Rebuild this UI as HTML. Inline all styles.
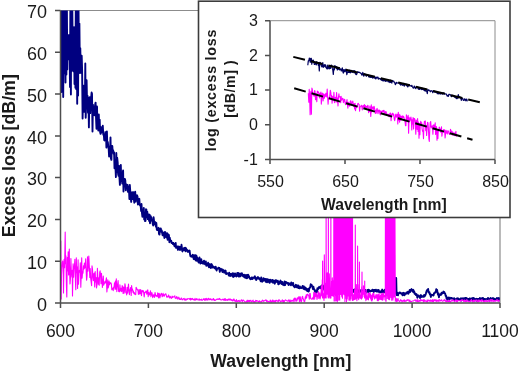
<!DOCTYPE html><html><head><meta charset="utf-8"><style>html,body{margin:0;padding:0;background:#fff;width:520px;height:371px;overflow:hidden}svg{display:block;font-family:"Liberation Sans",Arial,sans-serif}</style></head><body><svg width="520" height="371" viewBox="0 0 520 371"><defs><clipPath id="cp"><rect x="60.5" y="10.5" width="439.5" height="292.5"/></clipPath><clipPath id="ci"><rect x="270" y="20.7" width="225" height="138.8"/></clipPath></defs><rect width="520" height="371" fill="#fff"/><path d="M60.5 10.5H500V303" fill="none" stroke="#8c8c8c" stroke-width="1.2"/><g clip-path="url(#cp)" fill="none" stroke-linejoin="round"><polyline points="60.5,91.0 61.0,-10.0 61.4,92.0 61.9,-10.0 62.3,70.0 62.8,-10.0 63.2,97.0 63.7,20.0 64.1,-10.0 64.6,73.2 65.0,26.2 65.5,82.6 65.9,-12.4 66.4,74.5 66.8,-4.9 67.3,69.4 67.7,35.6 68.2,59.3 68.6,35.3 69.1,51.4 69.5,34.9 70.0,87.1 70.4,-1.6 70.9,94.5 71.3,-18.9 71.8,70.8 72.2,-6.0 72.7,54.6 73.1,30.7 73.6,71.4 74.0,27.3 74.5,84.1 74.9,30.1 75.4,87.8 75.8,2.1 76.3,89.2 76.7,-6.1 77.2,103.7 77.6,9.2 78.1,95.6 78.5,1.4 79.0,72.9 79.4,23.6 79.9,73.0 80.3,48.3 80.8,72.9 81.2,67.6 81.7,55.7 82.1,69.3 82.6,118.5 83.0,99.6 83.5,85.7 83.9,89.7 84.4,111.9 84.8,111.7 85.3,63.5 85.7,117.8 86.2,102.2 86.6,80.2 87.1,105.9 87.5,95.8 88.0,112.6 88.4,97.4 88.9,127.4 89.3,100.0 89.8,97.2 90.2,113.1 90.7,100.6 91.1,98.2 91.6,92.5 92.0,93.8 92.5,131.5 92.9,104.6 93.4,115.0 93.8,110.0 94.3,106.1 94.7,115.3 95.2,104.2 95.6,102.6 96.1,119.5 96.5,128.8 97.0,106.4 97.4,122.4 97.9,122.3 98.3,130.5 98.8,114.4 99.2,129.7 99.7,119.7 100.1,132.0 100.6,133.9 101.0,127.2 101.5,132.6 101.9,128.7 102.4,129.9 102.8,125.8 103.3,134.8 103.7,132.0 104.2,140.1 104.6,140.4 105.1,136.6 105.5,135.5 106.0,131.9 106.4,147.6 106.9,131.5 107.3,145.6 107.8,142.0 108.2,145.5 108.7,149.2 109.1,156.5 109.6,153.2 110.0,153.6 110.5,137.5 110.9,158.2 111.4,159.9 111.8,146.2 112.3,146.0 112.7,151.7 113.2,150.5 113.6,153.6 114.1,152.4 114.5,168.2 115.0,167.3 115.4,165.3 115.9,177.1 116.3,152.9 116.8,172.1 117.2,157.8 117.7,162.6 118.1,174.0 118.6,175.9 119.0,165.9 119.5,178.1 119.9,184.9 120.4,176.0 120.8,164.9 121.3,181.0 121.7,175.0 122.2,183.5 122.6,174.7 123.1,170.4 123.5,191.5 124.0,180.7 124.4,182.7 124.9,179.0 125.3,180.5 125.8,190.3 126.2,185.5 126.7,184.5 127.1,187.0 127.6,184.9 128.0,191.9 128.5,186.7 128.9,188.0 129.4,199.0 129.8,184.9 130.3,192.1 130.7,196.1 131.2,201.9 131.6,194.8 132.1,192.2 132.5,199.1 133.0,198.2 133.4,192.3 133.9,199.4 134.3,202.7 134.8,199.0 135.2,191.8 135.7,201.6 136.1,195.9 136.6,197.1 137.0,195.3 137.5,196.3 137.9,204.5 138.4,201.8 138.8,200.7 139.3,198.8 139.7,204.7 140.2,205.6 140.6,204.8 141.1,211.0 141.5,204.0 142.0,213.4 142.4,216.7 142.9,214.3 143.3,216.3 143.8,208.0 144.2,219.4 144.7,215.7 145.1,221.1 145.5,220.9 146.0,209.1 146.4,209.8 146.9,217.0 147.3,211.7 147.8,219.1 148.2,214.2 148.7,214.5 149.1,220.9 149.6,214.6 150.0,223.3 150.5,215.9 150.9,217.0 151.4,217.8 151.8,220.8 152.3,219.9 152.7,223.7 153.2,225.5 153.6,217.3 154.1,221.5 154.5,222.0 155.0,224.6 155.4,222.3 155.9,226.6 156.3,222.9 156.8,229.7 157.2,230.0 157.7,229.7 158.1,229.9 158.6,227.8 159.0,233.9 159.5,234.6 159.9,229.2 160.4,228.5 160.8,228.5 161.3,231.8 161.7,230.4 162.2,233.4 162.6,235.3 163.1,232.4 163.5,235.3 164.0,234.7 164.4,238.0 164.9,232.0 165.3,232.2 165.8,235.3 166.2,237.2 166.7,237.7 167.1,233.1 167.6,239.8 168.0,234.2 168.5,238.5 168.9,235.0 169.4,242.2 169.8,237.8 170.3,241.4 170.7,240.8 171.2,240.7 171.6,243.1 172.1,242.6 172.5,242.6 173.0,244.1 173.4,243.0 173.9,243.7 174.3,245.9 174.8,246.4 175.2,244.7 175.7,243.0 176.1,247.8 176.6,246.7 177.0,247.5 177.5,246.4 177.9,249.9 178.4,246.8 178.8,246.5 179.3,246.8 179.7,249.9 180.2,247.2 180.6,249.8 181.1,249.0 181.5,244.8 182.0,248.4 182.4,251.5 182.9,250.3 183.3,250.2 183.8,248.5 184.2,247.9 184.7,250.4 185.1,247.6 185.6,251.3 186.0,248.2 186.5,249.5 186.9,250.4 187.4,250.3 187.8,251.9 188.3,250.8 188.7,251.6 189.2,251.8 189.6,250.6 190.1,254.6 190.5,256.4 191.0,255.6 191.4,256.7 191.9,255.7 192.3,256.7 192.8,254.8 193.2,256.1 193.7,259.1 194.1,255.2 194.6,259.4 195.0,259.3 195.5,255.3 195.9,260.5 196.4,255.6 196.8,260.8 197.3,257.5 197.7,258.7 198.2,260.6 198.6,262.6 199.1,260.6 199.5,257.5 200.0,261.6 200.4,263.6 200.9,259.4 201.3,259.3 201.8,263.0 202.2,262.0 202.7,262.5 203.1,263.8 203.6,261.7 204.0,260.7 204.5,263.4 204.9,264.2 205.4,262.6 205.8,261.4 206.3,265.7 206.7,265.4 207.2,265.5 207.6,265.5 208.1,262.7 208.5,263.8 209.0,267.3 209.4,264.2 209.9,266.9 210.3,266.3 210.8,268.1 211.2,264.0 211.7,264.3 212.1,265.1 212.6,267.6 213.0,266.3 213.5,267.0 213.9,266.7 214.4,268.0 214.8,267.4 215.3,268.7 215.7,266.8 216.2,269.1 216.6,270.6 217.1,268.7 217.5,268.8 218.0,268.5 218.4,267.7 218.9,268.5 219.3,267.9 219.8,271.8 220.2,269.4 220.7,270.3 221.1,268.8 221.6,270.6 222.0,269.5 222.5,272.1 222.9,269.7 223.4,271.0 223.8,270.3 224.3,272.7 224.7,271.8 225.2,271.6 225.6,270.6 226.1,274.1 226.5,274.1 227.0,273.3 227.4,273.3 227.9,273.5 228.3,273.6 228.8,275.5 229.2,272.8 229.7,274.9 230.1,276.0 230.6,274.0 231.0,274.1 231.5,275.3 231.9,273.7 232.4,276.3 232.8,273.3 233.3,277.0 233.7,273.6 234.2,274.0 234.6,276.2 235.1,273.4 235.5,275.0 236.0,274.7 236.4,276.6 236.9,275.6 237.3,272.9 237.8,275.7 238.2,272.9 238.7,276.6 239.1,274.9 239.6,276.4 240.0,273.5 240.5,276.4 240.9,274.4 241.4,274.2 241.8,273.2 242.3,274.3 242.7,275.9 243.2,276.4 243.6,274.9 244.1,274.8 244.5,277.4 245.0,277.0 245.4,277.8 245.9,275.0 246.3,276.7 246.8,278.3 247.2,275.0 247.7,277.7 248.1,274.6 248.6,275.6 249.0,276.8 249.5,277.7 249.9,278.5 250.4,279.3 250.8,278.2 251.3,278.9 251.7,277.5 252.2,278.9 252.6,279.0 253.1,277.6 253.5,277.9 254.0,277.8 254.4,277.2 254.9,276.3 255.3,278.8 255.8,277.7 256.2,280.0 256.7,279.3 257.1,278.2 257.6,277.9 258.0,277.0 258.5,278.4 258.9,277.8 259.4,279.3 259.8,278.8 260.3,279.5 260.7,281.3 261.2,277.4 261.6,281.1 262.1,281.7 262.5,280.0 263.0,281.0 263.4,278.2 263.9,280.5 264.3,279.6 264.8,278.8 265.2,279.1 265.7,281.9 266.1,279.0 266.6,280.3 267.0,282.4 267.5,279.1 267.9,281.7 268.4,279.7 268.8,279.6 269.3,282.3 269.7,282.8 270.2,279.6 270.6,280.7 271.1,280.2 271.5,281.8 272.0,281.7 272.4,280.0 272.9,282.7 273.3,282.0 273.8,280.5 274.2,280.7 274.7,283.7 275.1,282.7 275.6,281.2 276.0,280.1 276.5,281.5 276.9,282.0 277.4,282.3 277.8,280.7 278.3,284.3 278.7,283.4 279.2,282.1 279.6,283.7 280.1,281.6 280.5,280.6 281.0,281.6 281.4,282.9 281.9,284.1 282.3,282.0 282.8,284.7 283.2,283.4 283.7,283.4 284.1,285.2 284.6,281.5 285.0,285.1 285.5,283.5 285.9,281.9 286.4,282.4 286.8,282.4 287.3,283.4 287.7,283.2 288.2,283.0 288.6,285.1 289.1,283.9 289.5,283.5 290.0,283.5 290.4,283.7 290.9,285.3 291.3,282.4 291.8,284.2 292.2,283.5 292.7,285.0 293.1,283.0 293.6,286.2 294.0,285.9 294.5,287.3 294.9,287.3 295.4,285.8 295.8,284.8 296.3,285.2 296.7,287.2 297.2,287.1 297.6,287.4 298.1,285.3 298.5,288.1 299.0,286.3 299.4,288.4 299.9,286.4 300.3,287.9 300.8,287.5 301.2,288.1 301.7,287.2 302.1,287.8 302.6,286.0 303.0,286.3 303.5,288.9 303.9,286.4 304.4,289.3 304.8,288.4 305.3,287.5 305.7,289.7 306.2,288.3 306.6,289.9 307.1,290.9 307.5,290.3 308.0,288.9 308.4,291.6 308.9,291.1 309.3,288.2 309.8,287.8 310.2,287.5 310.7,284.3 311.1,284.6 311.6,284.9 312.0,285.8 312.5,286.9 312.9,289.1 313.4,286.7 313.8,288.6 314.3,289.4 314.7,290.6 315.2,291.8 315.6,293.2 316.1,291.4 316.5,290.1 317.0,292.0 317.4,288.3 317.9,289.3 318.3,288.9 318.8,288.0 319.2,286.8 319.7,287.5 320.1,287.5 320.6,288.3 321.0,286.1 321.5,288.2 321.9,287.2 322.4,284.9 322.8,288.3 323.3,288.6 323.7,286.2 324.2,289.9 324.6,289.1 325.1,290.3 325.5,288.2 326.0,290.8 326.4,290.0 326.9,290.4 327.3,289.0 327.8,291.0 328.2,288.9 328.7,289.8 329.1,290.3 329.6,289.7 330.0,290.4 330.5,290.7 330.9,291.0 331.4,291.4 331.8,289.2 332.3,289.7 332.7,290.5 333.2,289.1 333.6,289.1 334.1,291.2 334.5,289.3 335.0,290.2 335.4,291.9 335.9,290.1 336.3,291.4 336.8,289.4 337.2,290.3 337.7,289.3 338.1,291.4 338.6,289.8 339.0,289.9 339.5,289.3 339.9,291.8 340.4,289.9 340.8,291.5 341.3,289.8 341.7,289.0 342.2,291.2 342.6,288.9 343.1,291.7 343.5,291.5 344.0,290.2 344.4,288.9 344.9,292.0 345.3,290.7 345.8,291.7 346.2,291.9 346.7,290.3 347.1,289.7 347.6,289.8 348.0,289.0 348.5,291.1 348.9,289.5 349.4,289.2 349.8,289.2 350.3,291.1 350.7,289.5 351.2,292.3 351.6,292.2 352.1,289.2 352.5,292.2 353.0,291.4 353.4,291.4 353.9,289.7 354.3,292.1 354.8,289.4 355.2,292.3 355.7,291.2 356.1,291.4 356.6,291.5 357.0,290.7 357.5,290.9 357.9,290.3 358.4,292.3 358.8,291.8 359.3,290.6 359.7,292.0 360.2,291.1 360.6,291.4 361.1,290.1 361.5,291.4 362.0,291.4 362.4,290.5 362.9,290.4 363.3,291.5 363.8,292.3 364.2,291.8 364.7,290.5 365.1,289.9 365.6,291.2 366.0,290.9 366.5,292.4 366.9,291.6 367.4,289.9 367.8,291.3 368.3,292.0 368.7,289.6 369.2,291.5 369.6,290.5 370.1,291.1 370.5,291.4 371.0,290.7 371.4,290.6 371.9,290.9 372.3,289.7 372.8,290.3 373.2,289.9 373.7,292.0 374.1,290.0 374.6,290.0 375.0,290.0 375.5,291.0 375.9,289.7 376.4,291.6 376.8,290.6 377.3,290.1 377.7,290.8 378.2,291.8 378.6,290.0 379.1,291.8 379.5,291.3 380.0,292.3 380.4,291.4 380.9,292.3 381.3,292.1 381.8,290.7 382.2,289.6 382.7,291.8 383.1,292.4 383.6,290.9 384.0,292.3 384.5,290.2 384.9,289.7 385.4,292.5 385.8,292.4 386.3,291.7 386.7,292.8 387.2,292.1 387.6,292.5 388.1,292.2 388.5,291.4 389.0,291.0 389.4,291.7 389.9,293.0 390.3,292.7 390.8,291.6 391.2,291.4 391.7,293.7 392.1,291.3 392.6,292.8 393.0,292.7 393.5,293.0 393.9,294.4 394.4,294.4 394.8,292.6 395.3,292.4 395.7,278.0 396.2,278.0 396.6,295.0 397.1,292.5 397.5,295.0 398.0,295.3 398.4,293.1 398.9,293.1 399.3,292.6 399.8,293.2 400.2,292.6 400.7,292.7 401.1,293.4 401.6,294.0 402.0,293.9 402.5,295.3 402.9,292.9 403.4,293.3 403.8,292.7 404.3,295.2 404.7,294.9 405.2,293.5 405.6,293.8 406.1,293.7 406.5,292.5 407.0,293.3 407.4,293.4 407.9,291.7 408.3,293.8 408.8,292.8 409.2,292.2 409.7,290.0 410.1,292.0 410.6,290.0 411.0,290.3 411.5,289.1 411.9,290.4 412.4,291.1 412.8,291.7 413.3,289.8 413.7,292.3 414.2,291.3 414.6,293.9 415.1,293.3 415.5,294.5 416.0,295.1 416.4,294.1 416.9,294.6 417.3,297.7 417.8,296.4 418.2,295.7 418.7,295.5 419.1,296.6 419.6,296.8 420.0,298.0 420.5,296.1 420.9,295.1 421.4,296.8 421.8,297.1 422.3,296.3 422.7,296.1 423.2,296.1 423.6,296.8 424.1,294.9 424.5,296.5 425.0,295.7 425.4,295.0 425.9,293.6 426.3,292.1 426.8,290.4 427.2,290.0 427.7,290.0 428.1,289.0 428.6,292.6 429.0,292.4 429.5,292.3 429.9,294.6 430.4,293.9 430.8,297.0 431.3,294.7 431.7,295.5 432.2,295.1 432.6,294.9 433.1,294.8 433.5,295.5 434.0,293.3 434.4,293.4 434.9,292.8 435.3,291.9 435.8,292.0 436.2,289.3 436.7,291.4 437.1,289.8 437.6,293.1 438.0,294.9 438.5,293.5 438.9,297.2 439.4,294.8 439.8,294.9 440.3,295.0 440.7,293.9 441.2,294.7 441.6,292.6 442.1,293.6 442.5,292.8 443.0,292.6 443.4,291.6 443.9,293.1 444.3,292.1 444.8,293.4 445.2,293.7 445.7,296.0 446.1,295.7 446.6,298.8 447.0,299.8 447.5,297.7 447.9,299.4 448.4,299.2 448.8,297.5 449.3,299.4 449.7,298.8 450.2,297.8 450.6,298.6 451.1,298.5 451.5,297.9 452.0,298.5 452.4,298.6 452.9,298.5 453.3,298.6 453.8,300.1 454.2,298.3 454.7,299.3 455.1,300.0 455.6,299.3 456.0,299.2 456.5,298.5 456.9,298.7 457.4,300.0 457.8,298.1 458.3,298.9 458.7,299.0 459.2,299.7 459.6,300.1 460.1,299.2 460.5,298.7 461.0,298.3 461.4,300.6 461.9,298.8 462.3,299.1 462.8,298.3 463.2,298.3 463.7,300.2 464.1,300.3 464.6,298.7 465.0,298.0 465.5,297.9 465.9,298.0 466.4,300.5 466.8,298.3 467.3,299.8 467.7,300.1 468.2,298.9 468.6,300.3 469.1,298.9 469.5,300.4 470.0,298.3 470.4,299.7 470.9,300.6 471.3,300.3 471.8,298.6 472.2,298.0 472.7,298.6 473.1,300.4 473.6,298.0 474.0,298.3 474.5,300.1 474.9,300.6 475.4,299.8 475.8,299.0 476.3,298.8 476.7,300.7 477.2,299.0 477.6,299.3 478.1,298.9 478.5,298.9 479.0,300.4 479.4,300.0 479.9,298.0 480.3,300.1 480.8,299.8 481.2,298.8 481.7,298.6 482.1,298.0 482.6,300.0 483.0,297.9 483.5,298.8 483.9,300.2 484.4,298.9 484.8,300.1 485.3,300.0 485.7,299.2 486.2,299.0 486.6,299.6 487.1,299.4 487.5,299.4 488.0,297.9 488.4,298.2 488.9,299.4 489.3,300.7 489.8,299.8 490.2,299.4 490.7,297.9 491.1,300.3 491.6,300.0 492.0,299.0 492.5,298.9 492.9,298.1 493.4,298.4 493.8,299.1 494.3,298.8 494.7,299.9 495.2,299.5 495.6,299.4 496.1,298.7 496.5,299.7 497.0,297.9 497.4,298.7 497.9,300.1 498.3,300.3 498.8,298.0 499.2,300.3 499.7,299.5" stroke="#000080" stroke-width="1.9"/><polyline points="60.5,262.0 60.8,241.0 61.2,299.0 61.5,275.0 61.9,267.7 62.3,262.1 62.8,260.9 63.2,267.7 63.5,293.0 64.1,259.2 64.6,267.8 65.2,232.0 65.5,263.8 65.9,255.9 66.4,284.7 66.8,297.0 67.3,257.5 67.7,270.9 68.2,251.7 68.6,274.9 69.1,266.5 69.3,249.0 69.5,265.6 70.0,283.9 70.4,279.3 70.9,258.6 71.3,271.3 71.8,276.9 72.2,270.3 72.5,296.0 73.1,263.8 73.6,277.3 74.0,268.3 74.5,264.7 74.9,259.3 75.4,280.3 75.8,289.8 76.3,257.7 76.7,272.8 77.2,267.0 77.6,288.5 78.1,259.9 78.5,284.3 79.0,273.9 79.4,270.2 79.9,272.2 80.3,262.8 80.8,287.2 81.2,275.7 81.7,257.8 82.1,278.2 82.6,271.8 83.0,273.3 83.5,265.7 83.9,269.2 84.4,263.1 84.8,268.1 85.3,265.8 85.7,258.8 86.2,271.5 86.6,280.3 87.1,275.5 87.5,256.8 88.0,271.3 88.4,265.8 88.8,256.0 89.3,265.8 89.8,277.4 90.2,268.6 90.7,278.7 91.1,281.5 91.6,285.7 92.0,265.9 92.5,269.3 92.9,277.5 93.4,280.8 93.8,273.9 94.3,273.1 94.7,286.9 95.2,271.5 95.6,281.9 96.1,277.6 96.5,287.9 97.0,284.9 97.4,268.4 97.9,278.0 98.3,284.2 98.8,277.8 99.2,285.2 99.7,272.4 100.1,270.8 100.6,275.8 101.0,283.7 101.5,273.2 101.9,279.8 102.4,287.4 102.8,282.1 103.3,276.1 103.7,285.2 104.2,283.5 104.6,283.2 105.1,281.2 105.5,282.9 106.0,280.3 106.4,277.8 106.9,291.9 107.3,286.6 107.8,279.9 108.2,288.0 108.7,285.8 109.1,281.1 109.6,284.7 110.0,282.6 110.5,283.3 110.9,282.9 111.4,284.2 111.8,289.7 112.3,288.0 112.7,289.1 113.2,290.7 113.6,287.6 114.1,286.6 114.5,282.8 115.0,289.3 115.4,281.0 115.9,289.2 116.3,278.7 116.8,291.6 117.2,287.0 117.7,283.6 118.1,280.6 118.6,291.3 119.0,291.7 119.5,291.8 119.9,284.9 120.4,289.9 120.8,291.2 121.3,288.4 121.7,291.6 122.2,285.6 122.6,286.7 123.1,293.4 123.5,287.0 124.0,293.3 124.4,291.3 124.9,283.7 125.3,285.7 125.8,292.6 126.2,292.3 126.7,294.9 127.1,287.3 127.6,293.1 128.0,289.2 128.5,284.1 128.9,290.3 129.4,294.8 129.8,290.3 130.3,288.8 130.7,287.5 131.2,295.5 131.6,285.6 132.1,290.3 132.5,289.1 133.0,292.5 133.4,291.1 133.9,293.7 134.3,292.6 134.8,294.3 135.2,294.1 135.7,294.7 136.1,287.4 136.6,288.2 137.0,289.2 137.5,290.1 137.9,289.5 138.4,294.4 138.8,293.5 139.3,289.5 139.7,293.9 140.2,293.8 140.6,289.5 141.1,293.3 141.5,295.7 142.0,290.4 142.4,291.9 142.9,290.6 143.3,290.7 143.8,293.4 144.2,296.9 144.7,292.3 145.1,292.6 145.5,292.2 146.0,291.0 146.4,292.4 146.9,294.3 147.3,290.6 147.8,289.9 148.2,296.8 148.7,292.5 149.1,293.9 149.6,295.0 150.0,292.8 150.5,290.9 150.9,296.6 151.4,294.8 151.8,292.5 152.3,294.5 152.7,297.6 153.2,296.5 153.6,294.7 154.1,295.3 154.5,297.4 155.0,292.5 155.4,294.1 155.9,296.1 156.3,295.5 156.8,295.7 157.2,296.8 157.7,292.8 158.1,294.2 158.6,297.9 159.0,293.2 159.5,294.3 159.9,298.0 160.4,295.6 160.8,294.5 161.3,293.3 161.7,293.9 162.2,296.8 162.6,296.1 163.1,293.4 163.5,296.0 164.0,294.8 164.4,296.2 164.9,294.7 165.3,294.2 165.8,293.8 166.2,294.9 166.7,297.1 167.1,297.3 167.6,296.6 168.0,296.9 168.5,295.0 168.9,295.7 169.4,297.7 169.8,298.0 170.3,296.3 170.7,297.5 171.2,298.1 171.6,298.4 172.1,296.1 172.5,297.4 173.0,296.6 173.4,296.9 173.9,297.0 174.3,296.5 174.8,295.8 175.2,298.2 175.7,298.1 176.1,298.6 176.6,296.6 177.0,297.0 177.5,298.1 177.9,299.2 178.4,297.9 178.8,297.2 179.3,298.4 179.7,299.5 180.2,299.4 180.6,299.5 181.1,298.3 181.5,298.0 182.0,299.7 182.4,299.5 182.9,299.8 183.3,298.7 183.8,298.5 184.2,298.4 184.7,300.1 185.1,300.3 185.6,298.9 186.0,300.2 186.5,299.0 186.9,299.1 187.4,299.4 187.8,298.6 188.3,298.7 188.7,298.7 189.2,298.7 189.6,299.3 190.1,298.3 190.5,300.0 191.0,298.5 191.4,299.1 191.9,299.6 192.3,298.4 192.8,299.1 193.2,299.4 193.7,299.4 194.1,300.2 194.6,300.0 195.0,298.4 195.5,300.1 195.9,299.4 196.4,299.7 196.8,298.5 197.3,299.3 197.7,299.8 198.2,300.0 198.6,300.0 199.1,298.7 199.5,300.1 200.0,299.5 200.4,299.7 200.9,300.2 201.3,299.1 201.8,300.3 202.2,300.2 202.7,300.1 203.1,299.1 203.6,299.4 204.0,298.6 204.5,300.0 204.9,300.3 205.4,298.6 205.8,299.9 206.3,299.8 206.7,298.3 207.2,300.3 207.6,299.3 208.1,298.9 208.5,298.3 209.0,300.0 209.4,299.0 209.9,299.4 210.3,298.7 210.8,299.6 211.2,299.2 211.7,300.1 212.1,299.8 212.6,299.9 213.0,298.9 213.5,298.5 213.9,300.2 214.4,300.4 214.8,299.7 215.3,300.3 215.7,299.9 216.2,299.7 216.6,299.3 217.1,299.1 217.5,299.4 218.0,298.8 218.4,299.3 218.9,299.5 219.3,298.4 219.8,299.2 220.2,299.0 220.7,299.7 221.1,300.1 221.6,299.7 222.0,299.8 222.5,299.7 222.9,299.0 223.4,299.2 223.8,300.2 224.3,300.4 224.7,298.8 225.2,298.5 225.6,300.4 226.1,300.2 226.5,299.7 227.0,300.1 227.4,299.7 227.9,300.3 228.3,299.0 228.8,299.4 229.2,299.8 229.7,298.9 230.1,300.0 230.6,299.1 231.0,300.1 231.5,300.4 231.9,299.6 232.4,300.9 232.8,300.2 233.3,300.6 233.7,299.0 234.2,299.3 234.6,300.7 235.1,301.3 235.5,300.7 236.0,301.4 236.4,299.5 236.9,301.5 237.3,301.5 237.8,301.0 238.2,300.6 238.7,301.3 239.1,300.3 239.6,301.4 240.0,301.5 240.5,301.1 240.9,300.5 241.4,299.8 241.8,300.3 242.3,301.9 242.7,300.3 243.2,300.0 243.6,300.4 244.1,301.1 244.5,301.3 245.0,302.0 245.4,301.9 245.9,302.2 246.3,302.0 246.8,300.9 247.2,300.2 247.7,302.2 248.1,300.4 248.6,301.4 249.0,300.5 249.5,301.8 249.9,300.3 250.4,300.9 250.8,300.3 251.3,302.0 251.7,301.3 252.2,301.4 252.6,300.6 253.1,300.2 253.5,301.9 254.0,301.7 254.4,301.6 254.9,302.3 255.3,301.2 255.8,300.2 256.2,301.3 256.7,300.5 257.1,301.1 257.6,300.9 258.0,301.2 258.5,302.1 258.9,301.8 259.4,300.8 259.8,301.8 260.3,302.0 260.7,301.7 261.2,301.2 261.6,302.0 262.1,301.0 262.5,300.1 263.0,300.5 263.4,301.4 263.9,300.7 264.3,300.9 264.8,300.8 265.2,300.3 265.7,300.0 266.1,299.9 266.6,301.5 267.0,300.6 267.5,300.9 267.9,302.1 268.4,301.4 268.8,301.8 269.3,301.7 269.7,302.2 270.2,300.0 270.6,300.8 271.1,302.2 271.5,301.0 272.0,302.2 272.4,300.3 272.9,300.0 273.3,302.0 273.8,300.8 274.2,301.1 274.7,302.1 275.1,300.3 275.6,302.2 276.0,300.8 276.5,300.4 276.9,300.4 277.4,301.1 277.8,301.0 278.3,302.0 278.7,299.9 279.2,299.9 279.6,300.2 280.1,301.3 280.5,301.8 281.0,301.0 281.4,301.3 281.9,301.4 282.3,299.8 282.8,300.4 283.2,302.3 283.7,300.6 284.1,302.2 284.6,301.0 285.0,300.4 285.5,299.8 285.9,300.3 286.4,300.6 286.8,300.9 287.3,300.9 287.7,301.2 288.2,301.0 288.6,299.9 289.1,300.5 289.5,302.2 290.0,299.9 290.4,301.6 290.9,300.8 291.3,301.4 291.8,300.2 292.2,300.2 292.7,300.6 293.1,301.9 293.6,299.7 294.0,298.6 294.5,298.2 294.9,301.7 295.4,299.1 295.8,298.1 296.3,300.2 296.7,301.3 297.2,300.1 297.6,297.7 298.1,298.9 298.5,298.0 299.0,296.5 299.4,301.8 299.9,298.8 300.3,296.7 300.8,301.3 301.2,301.9 301.7,300.8 302.1,297.0 302.6,296.4 303.0,298.7 303.5,299.0 303.9,301.1 304.4,301.8 304.8,301.3 305.3,296.9 305.7,298.7 306.2,294.9 306.6,298.0 307.1,294.2 307.5,294.4 308.0,294.4 308.4,295.8 308.9,295.8 309.3,299.3 309.8,293.4 310.2,293.6 310.7,298.7 311.1,298.8 311.6,299.1 312.0,299.2 312.5,298.6 312.9,297.4 313.4,299.3 313.8,292.2 314.3,293.5 314.7,299.2 315.2,292.9 315.6,296.5 316.1,293.0 316.5,294.7 317.0,299.5 317.4,297.1 317.9,294.0 318.3,291.4 318.8,298.5 319.2,296.2 319.7,292.8 320.1,299.0 320.6,296.4 321.0,294.4 321.3,285.9 322.0,296.0 322.3,279.7 322.5,298.0 322.6,261.0 322.6,298.0 323.0,297.5 323.3,293.7 324.0,300.4 324.3,254.9 325.0,298.0 325.3,283.2 326.0,294.3 326.1,298.0 326.1,150.0 326.2,298.0 326.3,288.1 327.0,294.1 327.3,272.8 328.0,297.1 328.3,273.8 328.3,298.0 328.4,150.0 328.4,298.0 329.0,296.6 329.3,273.9 330.0,298.3 330.3,291.4 330.8,298.0 330.9,150.0 330.9,298.0 331.0,295.7 331.3,281.3 332.0,295.4 332.3,277.7 333.0,296.3 333.3,280.5 333.7,295.7 333.9,150.0 334.1,301.1 334.3,150.0 334.5,294.1 334.7,150.0 334.9,294.4 335.1,150.0 335.3,300.9 335.5,150.0 335.7,294.8 335.9,150.0 336.1,295.3 336.3,150.0 336.5,300.8 336.7,150.0 336.9,295.2 337.1,150.0 337.3,302.0 337.5,150.0 337.7,300.2 337.9,150.0 338.1,300.5 338.3,150.0 338.5,294.3 338.7,150.0 338.9,294.2 339.1,150.0 339.3,299.5 339.5,150.0 339.7,300.3 339.9,150.0 340.1,294.2 340.3,150.0 340.5,294.1 340.7,150.0 340.9,294.4 341.1,150.0 341.3,293.4 341.5,150.0 341.7,296.2 341.9,150.0 342.1,297.0 342.3,150.0 342.5,298.3 342.7,150.0 342.9,292.6 343.1,150.0 343.3,293.9 343.5,150.0 343.7,293.2 343.9,150.0 344.1,294.7 344.3,150.0 344.5,293.9 344.7,150.0 344.9,301.4 345.1,150.0 345.3,295.7 345.5,150.0 345.7,293.4 345.9,150.0 346.1,298.7 346.3,150.0 346.5,301.7 346.7,150.0 346.9,299.9 347.1,150.0 347.3,298.5 347.5,150.0 347.7,295.8 347.9,150.0 348.1,296.0 348.3,150.0 348.5,295.0 348.7,150.0 348.9,300.1 349.1,150.0 349.3,300.0 349.5,150.0 349.7,296.9 349.9,150.0 350.1,300.6 350.3,150.0 350.5,298.5 350.7,150.0 350.9,298.9 351.1,150.0 351.3,294.7 351.5,150.0 351.5,295.7 351.8,287.0 352.4,300.4 352.4,298.0 352.5,150.0 352.6,298.0 352.7,294.4 353.3,300.3 353.6,294.7 354.2,299.6 354.5,289.7 355.1,299.4 355.2,298.0 355.3,225.0 355.4,298.0 355.4,286.2 356.0,298.6 356.3,284.6 356.9,300.8 357.2,295.4 357.6,298.0 357.6,246.0 357.7,298.0 357.8,295.2 358.1,294.0 358.7,299.8 359.0,284.5 359.3,298.0 359.4,262.0 359.4,298.0 359.6,298.0 359.9,289.5 360.5,298.3 360.8,295.5 361.4,299.1 361.7,286.7 361.9,298.0 362.0,272.0 362.1,298.0 362.3,297.9 362.6,291.3 363.2,294.1 363.5,285.7 364.1,296.5 364.4,286.3 364.6,298.0 364.7,281.0 364.8,298.0 365.0,295.7 365.3,292.8 365.9,300.7 366.0,299.9 366.2,290.0 366.2,298.2 366.5,295.5 366.6,299.1 366.9,298.0 367.1,298.4 367.4,299.3 367.5,298.3 367.8,295.6 368.0,293.0 368.3,296.1 368.4,300.0 368.7,297.7 368.9,294.3 369.2,293.1 369.3,294.4 369.6,296.9 369.8,297.1 370.1,293.0 370.2,297.7 370.5,294.2 370.7,299.0 371.0,297.7 371.1,295.3 371.4,300.8 371.6,300.6 371.9,301.0 372.0,298.0 372.3,294.6 372.5,299.8 372.8,293.6 372.9,296.8 373.2,296.9 373.4,293.6 373.7,296.2 373.8,293.1 374.1,295.7 374.3,298.1 374.6,299.0 374.7,296.4 375.0,298.5 375.2,296.5 375.5,297.3 375.6,295.6 375.9,297.8 376.1,294.4 376.4,297.5 376.5,296.8 376.8,298.3 377.0,295.0 377.3,300.4 377.4,300.1 377.7,300.6 377.9,294.4 378.2,300.8 378.3,300.7 378.6,299.8 378.8,299.9 379.1,293.6 379.2,296.1 379.5,296.5 379.7,299.2 380.0,299.2 380.1,297.6 380.4,295.2 380.6,296.7 380.9,297.8 381.0,299.5 381.3,293.3 381.5,299.6 381.8,294.5 381.9,294.6 382.2,296.1 382.4,300.2 382.7,293.4 382.8,293.3 383.1,296.3 383.3,293.0 383.6,294.8 383.7,296.9 384.0,299.9 384.2,295.4 384.5,295.5 384.6,296.4 384.9,296.0 385.1,296.8 385.3,296.7 385.5,150.0 385.7,301.1 385.9,150.0 386.1,301.2 386.3,150.0 386.5,295.5 386.7,150.0 386.9,294.9 387.1,150.0 387.3,298.5 387.5,150.0 387.7,294.0 387.9,150.0 388.1,296.0 388.3,150.0 388.5,299.2 388.7,150.0 388.9,292.1 389.1,150.0 389.3,299.7 389.5,150.0 389.7,299.3 389.9,150.0 390.1,295.9 390.3,150.0 390.5,294.5 390.7,150.0 390.9,297.4 391.1,150.0 391.3,295.0 391.5,150.0 391.7,300.2 391.9,150.0 392.1,297.9 392.3,150.0 392.5,295.1 392.7,150.0 392.9,300.1 393.1,150.0 393.3,298.1 393.5,150.0 393.7,293.3 393.9,150.0 394.1,296.1 394.3,150.0 394.5,296.9 394.7,150.0 395.3,301.2 395.7,300.4 396.2,298.2 396.6,301.6 397.1,299.0 397.5,301.1 398.0,298.5 398.4,300.1 398.9,300.4 399.3,301.7 399.8,301.6 400.2,300.9 400.7,299.6 401.1,300.6 401.6,300.4 402.0,302.0 402.5,301.2 402.9,300.5 403.4,300.4 403.8,301.4 404.3,299.7 404.7,301.5 405.2,301.2 405.6,300.6 406.1,301.3 406.5,300.5 407.0,299.9 407.4,300.5 407.9,299.6 408.3,299.7 408.8,300.6 409.2,301.6 409.7,300.0 410.1,300.8 410.6,301.9 411.0,301.6 411.5,301.8 411.9,301.2 412.4,301.0 412.8,301.0 413.3,301.0 413.7,300.7 414.2,300.4 414.6,300.1 415.1,299.7 415.5,300.4 416.0,301.4 416.4,300.9 416.9,299.9 417.3,301.5 417.8,299.6 418.2,301.8 418.7,301.1 419.1,300.9 419.6,300.5 420.0,301.6 420.5,299.5 420.9,299.5 421.4,300.8 421.8,300.2 422.3,300.5 422.7,300.8 423.2,299.6 423.6,302.0 424.1,301.2 424.5,299.7 425.0,301.3 425.4,300.8 425.9,301.2 426.3,301.3 426.8,302.0 427.2,299.8 427.7,302.0 428.1,300.7 428.6,300.0 429.0,300.4 429.5,300.4 429.9,301.7 430.4,300.8 430.8,299.7 431.3,301.3 431.7,300.7 432.2,301.5 432.6,299.6 433.1,301.7 433.5,301.7 434.0,299.5 434.4,300.7 434.9,299.8 435.3,300.8 435.8,299.7 436.2,301.7 436.7,300.0 437.1,301.2 437.6,301.1 438.0,300.3 438.5,300.0 438.9,301.8 439.4,299.6 439.8,300.1 440.3,300.3 440.7,301.0 441.2,300.4 441.6,299.8 442.1,300.9 442.5,301.3 443.0,301.3 443.4,300.7 443.9,300.3 444.3,299.5 444.8,300.8 445.2,301.1 445.7,300.6 446.1,301.9 446.6,300.0 447.0,301.5 447.5,301.3 447.9,301.7 448.4,301.8 448.8,300.1 449.3,301.8 449.7,300.5 450.2,301.2 450.6,301.9 451.1,301.0 451.5,301.0 452.0,299.7 452.4,301.0 452.9,300.1 453.3,300.5 453.8,300.4 454.2,301.9 454.7,301.1 455.1,301.3 455.6,299.9 456.0,300.3 456.5,301.7 456.9,299.8 457.4,301.9 457.8,300.6 458.3,300.5 458.7,300.8 459.2,300.6 459.6,300.7 460.1,300.6 460.5,301.3 461.0,300.2 461.4,299.9 461.9,300.6 462.3,299.7 462.8,300.6 463.2,300.7 463.7,301.5 464.1,299.8 464.6,300.5 465.0,301.5 465.5,300.3 465.9,301.6 466.4,301.3 466.8,299.6 467.3,300.5 467.7,301.4 468.2,300.8 468.6,301.2 469.1,302.0 469.5,301.2 470.0,300.9 470.4,301.6 470.9,300.6 471.3,299.5 471.8,300.2 472.2,301.0 472.7,301.9 473.1,301.0 473.6,300.2 474.0,302.0 474.5,300.5 474.9,300.1 475.4,300.9 475.8,300.4 476.3,299.8 476.7,301.3 477.2,301.2 477.6,301.9 478.1,299.8 478.5,301.8 479.0,301.5 479.4,300.1 479.9,300.7 480.3,301.1 480.8,300.3 481.2,299.8 481.7,301.6 482.1,299.9 482.6,300.7 483.0,300.6 483.5,301.8 483.9,300.9 484.4,300.6 484.8,301.9 485.3,300.4 485.7,301.3 486.2,300.1 486.6,301.4 487.1,301.4 487.5,301.6 488.0,300.7 488.4,300.1 488.9,301.1 489.3,301.8 489.8,300.3 490.2,299.6 490.7,300.0 491.1,301.8 491.6,299.5 492.0,299.6 492.5,299.7 492.9,301.7 493.4,300.5 493.8,301.2 494.3,301.3 494.7,300.6 495.2,301.3 495.6,300.7 496.1,300.9 496.5,300.3 497.0,299.5 497.4,301.0 497.9,300.2 498.3,300.2 498.8,301.7 499.2,300.4 499.7,299.8" stroke="#ff00ff" stroke-width="1.1"/></g><path d="M60.5 10.5V308M55 303H500M55 303.0H60.5M55 261.2H60.5M55 219.4H60.5M55 177.6H60.5M55 135.9H60.5M55 94.1H60.5M55 52.3H60.5M55 10.5H60.5M60.5 303V308M148.4 303V308M236.3 303V308M324.2 303V308M412.1 303V308M500.0 303V308" fill="none" stroke="#4e4e4e" stroke-width="1.5"/><text x="47.0" y="310.8" text-anchor="end" font-size="18" fill="#1a1a1a">0</text><text x="47.0" y="269.0" text-anchor="end" font-size="18" fill="#1a1a1a">10</text><text x="47.0" y="227.2" text-anchor="end" font-size="18" fill="#1a1a1a">20</text><text x="47.0" y="185.4" text-anchor="end" font-size="18" fill="#1a1a1a">30</text><text x="47.0" y="143.7" text-anchor="end" font-size="18" fill="#1a1a1a">40</text><text x="47.0" y="101.9" text-anchor="end" font-size="18" fill="#1a1a1a">50</text><text x="47.0" y="60.1" text-anchor="end" font-size="18" fill="#1a1a1a">60</text><text x="47.0" y="18.3" text-anchor="end" font-size="18" fill="#1a1a1a">70</text><text x="60.5" y="336.6" text-anchor="middle" font-size="17.5" fill="#1a1a1a">600</text><text x="148.4" y="336.6" text-anchor="middle" font-size="17.5" fill="#1a1a1a">700</text><text x="236.3" y="336.6" text-anchor="middle" font-size="17.5" fill="#1a1a1a">800</text><text x="324.2" y="336.6" text-anchor="middle" font-size="17.5" fill="#1a1a1a">900</text><text x="412.1" y="336.6" text-anchor="middle" font-size="17.5" fill="#1a1a1a">1000</text><text x="500.0" y="336.6" text-anchor="middle" font-size="17.5" fill="#1a1a1a">1100</text><text x="210.3" y="367.3" font-size="17.6" font-weight="bold" fill="#1a1a1a">Wavelength [nm]</text><text transform="translate(14.6 155.7) rotate(-90)" text-anchor="middle" font-size="17.8" font-weight="bold" fill="#1a1a1a">Excess loss [dB/m]</text><rect x="198.5" y="1.2" width="311.5" height="216.3" fill="#fff" stroke="#3c3c3c" stroke-width="1.6"/><path d="M270 20.7H495V159.5" fill="none" stroke="#8c8c8c" stroke-width="1"/><g clip-path="url(#ci)" fill="none" stroke-linejoin="round"><polyline points="308.3,93.2 308.8,102.3 309.2,89.2 309.6,95.6 310.1,114.7 310.5,93.3 311.0,91.2 311.4,114.2 311.9,88.1 312.3,89.2 312.8,93.2 313.2,94.9 313.7,95.5 314.1,96.2 314.6,90.5 315.0,91.1 315.5,99.7 315.9,93.5 316.4,97.1 316.8,101.6 317.3,91.0 317.7,91.5 318.2,92.6 318.6,92.0 319.1,95.0 319.5,97.9 320.0,93.2 320.4,94.6 320.9,92.0 321.3,104.1 321.8,97.9 322.2,93.1 322.7,94.2 323.1,101.0 323.6,93.7 324.0,98.4 324.5,97.9 324.9,94.4 325.4,96.5 325.8,93.3 326.3,93.5 326.7,97.0 327.2,89.1 327.6,96.3 328.1,104.2 328.5,97.7 329.0,98.0 329.4,98.3 329.9,94.6 330.3,90.2 330.8,92.6 331.2,97.8 331.7,95.6 332.1,103.2 332.6,96.5 333.0,99.8 333.5,99.8 333.9,92.4 334.4,102.2 334.8,102.7 335.3,97.4 335.7,99.2 336.2,98.8 336.6,92.6 337.1,102.5 337.5,98.0 338.0,105.9 338.4,98.0 338.9,93.7 339.3,97.0 339.8,96.8 340.2,96.7 340.7,102.8 341.1,96.4 341.6,100.3 342.0,99.4 342.5,98.4 342.9,98.4 343.4,102.7 343.8,101.5 344.3,99.5 344.7,99.4 345.2,103.3 345.6,104.7 346.1,102.3 346.5,102.2 347.0,99.6 347.4,104.2 347.9,108.3 348.3,102.2 348.8,103.6 349.2,105.4 349.7,106.1 350.1,101.9 350.6,100.8 351.0,101.2 351.5,104.8 351.9,103.1 352.4,102.5 352.8,101.1 353.3,104.6 353.7,106.4 354.2,103.7 354.6,109.0 355.1,103.4 355.5,110.7 356.0,107.0 356.4,106.4 356.9,107.1 357.3,105.8 357.8,103.7 358.2,103.3 358.7,104.1 359.1,104.4 359.6,111.1 360.0,107.3 360.5,106.6 360.9,106.3 361.4,105.3 361.8,106.3 362.3,109.9 362.7,105.9 363.2,106.5 363.6,105.3 364.1,107.6 364.5,104.6 365.0,107.4 365.4,105.5 365.9,109.0 366.3,106.3 366.8,106.9 367.2,107.4 367.7,105.4 368.1,105.7 368.6,112.6 369.0,110.9 369.5,111.5 369.9,106.1 370.4,111.5 370.8,116.4 371.3,104.9 371.7,111.9 372.2,106.9 372.6,108.2 373.1,107.3 373.5,109.5 374.0,106.2 374.4,107.6 374.9,110.3 375.3,113.4 375.8,110.3 376.2,113.1 376.7,109.2 377.1,108.4 377.6,111.1 378.0,113.6 378.5,110.1 378.9,111.6 379.4,110.1 379.8,113.2 380.3,114.9 380.7,110.7 381.2,111.6 381.6,113.4 382.1,111.0 382.5,111.5 383.0,110.5 383.4,112.1 383.9,110.2 384.3,111.5 384.8,114.3 385.2,113.6 385.7,111.5 386.1,111.8 386.6,113.7 387.0,114.8 387.5,115.3 387.9,114.1 388.4,116.3 388.8,114.5 389.3,116.8 389.7,114.1 390.2,113.1 390.6,113.3 391.1,120.7 391.5,114.6 392.0,114.7 392.4,113.2 392.9,113.3 393.3,115.6 393.8,114.3 394.2,119.0 394.7,120.7 395.1,118.4 395.6,114.7 396.0,114.0 396.5,117.1 396.9,116.3 397.4,114.4 397.8,123.9 398.3,112.2 398.7,120.2 399.2,114.4 399.6,122.2 400.1,115.1 400.5,120.3 401.0,116.5 401.4,120.0 401.9,116.0 402.3,117.8 402.8,115.9 403.2,117.7 403.7,116.6 404.1,117.8 404.6,120.9 405.0,121.2 405.5,125.8 405.9,125.7 406.4,114.9 406.8,116.3 407.3,121.4 407.7,119.2 408.2,115.4 408.6,133.2 409.1,117.2 409.5,121.5 410.0,120.7 410.4,118.5 410.9,117.1 411.3,119.4 411.8,129.9 412.2,119.8 412.7,124.0 413.1,117.5 413.6,129.0 414.0,118.6 414.5,118.6 414.9,119.4 415.4,123.9 415.8,134.2 416.3,120.1 416.7,122.3 417.2,129.4 417.6,118.5 418.1,131.4 418.5,122.1 419.0,138.3 419.4,123.7 419.9,134.7 420.3,123.8 420.8,121.2 421.2,124.9 421.7,122.8 422.1,128.8 422.6,131.4 423.0,130.8 423.5,138.6 423.9,126.5 424.4,121.3 424.8,122.1 425.3,120.9 425.7,130.6 426.2,125.9 426.6,135.4 427.1,127.6 427.5,122.2 428.0,122.9 428.4,128.7 428.9,139.1 429.3,141.5 429.8,129.3 430.2,122.5 430.7,121.6 431.1,127.1 431.6,126.3 432.0,128.2 432.5,125.8 432.9,134.3 433.4,124.8 433.8,126.0 434.3,125.0 434.7,128.6 435.2,122.9 435.6,134.4 436.1,127.1 436.5,126.6 437.0,140.3 437.4,130.8 437.9,138.5 438.3,129.8 438.8,130.9 439.2,127.0 439.7,128.1 440.1,129.0 440.6,132.0 441.0,132.2 441.5,126.7 441.9,136.2 442.4,131.9 442.8,131.1 443.3,130.7 443.7,129.6 444.2,132.5 444.6,129.7 445.1,137.9 445.5,133.6 446.0,130.2 446.4,131.4 446.9,133.5 447.3,134.0 447.8,130.7 448.2,131.0 448.7,131.9 449.1,133.8 449.6,134.5 450.0,134.3 450.5,129.2 450.9,131.4 451.4,131.9 451.8,131.1 452.3,135.2 452.7,132.1 453.2,133.2 453.6,133.1 454.1,135.6 454.5,134.5 455.0,132.7 455.4,135.5 455.9,131.3 456.3,136.8" stroke="#ff00ff" stroke-width="1.1"/><polyline points="307.8,65.2 308.3,60.9 308.8,60.8 309.3,58.0 309.8,58.9 310.3,62.3 310.8,58.3 311.3,58.4 311.8,64.3 312.3,60.3 312.8,60.4 313.3,60.1 313.8,61.7 314.3,64.4 314.8,64.5 315.3,63.5 315.8,62.1 316.3,64.8 316.8,61.7 317.3,62.7 317.8,62.9 318.3,65.5 318.8,64.5 319.3,70.9 319.8,62.3 320.3,62.7 320.8,63.4 321.3,65.6 321.8,66.9 322.3,65.9 322.8,62.5 323.3,67.4 323.8,65.2 324.3,66.6 324.8,64.5 325.3,64.7 325.8,67.4 326.3,67.7 326.8,68.8 327.3,65.2 327.8,68.9 328.3,67.6 328.8,66.1 329.3,68.8 329.8,66.7 330.3,68.5 330.8,66.9 331.3,65.0 331.8,65.7 332.3,68.4 332.8,70.0 333.3,74.5 333.8,68.4 334.3,70.0 334.8,65.5 335.3,67.0 335.8,66.4 336.3,68.3 336.8,66.7 337.3,69.9 337.8,69.6 338.3,67.6 338.8,68.5 339.3,69.7 339.8,69.8 340.3,69.2 340.8,68.8 341.3,71.0 341.8,70.4 342.3,67.8 342.8,71.5 343.3,73.2 343.8,69.6 344.3,69.6 344.8,71.9 345.3,71.1 345.8,69.2 346.3,70.5 346.8,74.6 347.3,72.8 347.8,71.4 348.3,72.4 348.8,71.6 349.3,72.4 349.8,70.0 350.3,72.9 350.8,70.9 351.3,72.2 351.8,70.4 352.3,72.2 352.8,72.3 353.3,71.1 353.8,70.8 354.3,73.0 354.8,70.7 355.3,71.7 355.8,74.5 356.3,74.7 356.8,74.1 357.3,72.1 357.8,71.8 358.3,72.5 358.8,72.2 359.3,72.3 359.8,72.6 360.3,73.2 360.8,73.0 361.3,73.7 361.8,75.1 362.3,74.5 362.8,72.4 363.3,75.2 363.8,76.2 364.3,73.9 364.8,73.8 365.3,75.0 365.8,74.9 366.3,76.3 366.8,75.1 367.3,75.1 367.8,74.7 368.3,75.7 368.8,77.0 369.3,76.0 369.8,77.2 370.3,77.4 370.8,75.9 371.3,77.5 371.8,76.0 372.3,77.2 372.8,78.1 373.3,77.0 373.8,77.7 374.3,77.9 374.8,78.1 375.3,77.0 375.8,79.0 376.3,78.2 376.8,77.0 377.3,77.8 377.8,77.1 378.3,79.2 378.8,78.0 379.3,78.8 379.8,78.5 380.3,78.6 380.8,79.7 381.3,80.2 381.8,78.4 382.3,80.7 382.8,79.8 383.3,81.0 383.8,79.9 384.3,80.7 384.8,79.7 385.3,81.4 385.8,79.6 386.3,81.2 386.8,80.7 387.3,81.0 387.8,80.9 388.3,81.9 388.8,80.9 389.3,81.6 389.8,82.5 390.3,80.2 390.8,82.4 391.3,81.9 391.8,83.1 392.3,80.6 392.8,81.4 393.3,81.0 393.8,81.1 394.3,82.5 394.8,82.9 395.3,84.7 395.8,83.9 396.3,82.3 396.8,83.2 397.3,82.9 397.8,83.0 398.3,83.0 398.8,82.8 399.3,83.5 399.8,84.2 400.3,84.2 400.8,85.1 401.3,84.8 401.8,83.8 402.3,84.7 402.8,85.4 403.3,84.5 403.8,83.4 404.3,86.1 404.8,83.8 405.3,84.5 405.8,84.9 406.3,85.3 406.8,84.2 407.3,86.7 407.8,86.8 408.3,86.1 408.8,84.7 409.3,85.8 409.8,85.5 410.3,85.7 410.8,85.8 411.3,86.4 411.8,85.3 412.3,86.5 412.8,87.4 413.3,88.1 413.8,88.0 414.3,86.0 414.8,86.8 415.3,88.1 415.8,88.7 416.3,87.3 416.8,87.1 417.3,87.7 417.8,87.1 418.3,89.1 418.8,88.0 419.3,89.5 419.8,87.9 420.3,88.9 420.8,88.0 421.3,89.2 421.8,89.6 422.3,88.2 422.8,89.5 423.3,88.8 423.8,90.0 424.3,90.8 424.8,89.3 425.3,90.4 425.8,91.2 426.3,90.6 426.8,91.3 427.3,93.6 427.8,89.6 428.3,90.4 428.8,89.9 429.3,90.5 429.8,90.8 430.3,91.8 430.8,90.8 431.3,90.7 431.8,91.0 432.3,91.5 432.8,92.7 433.3,90.6 433.8,91.2 434.3,92.0 434.8,91.2 435.3,92.1 435.8,92.3 436.3,92.0 436.8,92.6 437.3,93.7 437.8,92.1 438.3,93.8 438.8,93.3 439.3,93.7 439.8,92.6 440.3,94.1 440.8,92.6 441.3,92.9 441.8,94.0 442.3,93.0 442.8,94.2 443.3,92.9 443.8,93.0 444.3,93.4 444.8,94.2 445.3,94.0 445.8,93.9 446.3,94.0 446.8,95.2 447.3,96.1 447.8,95.4 448.3,96.4 448.8,94.3 449.3,94.4 449.8,94.6 450.3,94.9 450.8,94.9 451.3,96.7 451.8,96.5 452.3,95.7 452.8,95.2 453.3,95.5 453.8,95.6 454.3,97.0 454.8,97.2 455.3,97.5 455.8,96.7 456.3,98.7 456.8,97.4 457.3,96.4 457.8,98.6 458.3,94.6 458.8,96.6 459.3,97.1 459.8,96.7 460.3,97.7 460.8,98.1 461.3,100.3 461.8,98.5 462.3,98.4 462.8,98.5 463.3,100.4 463.8,100.2 464.3,100.2 464.8,98.7 465.3,100.0 465.8,100.8 466.3,99.3 466.8,99.1 467.3,101.3" stroke="#000060" stroke-width="1.2"/></g><line x1="293.3" y1="56.9" x2="479.8" y2="102.3" stroke="#000" stroke-width="2" stroke-dasharray="12 6"/><line x1="294.2" y1="88.3" x2="472.5" y2="139.8" stroke="#000" stroke-width="2" stroke-dasharray="12 6"/><path d="M270 20.7V164M265 159.5H495M265 159.5H270M265 124.8H270M265 90.1H270M265 55.4H270M265 20.7H270M270.0 159.5V164M345.0 159.5V164M420.0 159.5V164M495.0 159.5V164" fill="none" stroke="#4e4e4e" stroke-width="1.5"/><text x="257.8" y="164.7" text-anchor="end" font-size="16" fill="#1a1a1a">-1</text><text x="257.8" y="130.0" text-anchor="end" font-size="16" fill="#1a1a1a">0</text><text x="257.8" y="95.3" text-anchor="end" font-size="16" fill="#1a1a1a">1</text><text x="257.8" y="60.6" text-anchor="end" font-size="16" fill="#1a1a1a">2</text><text x="257.8" y="25.9" text-anchor="end" font-size="16" fill="#1a1a1a">3</text><text x="270.5" y="187.0" text-anchor="middle" font-size="16" fill="#1a1a1a">550</text><text x="345.5" y="187.0" text-anchor="middle" font-size="16" fill="#1a1a1a">650</text><text x="420.5" y="187.0" text-anchor="middle" font-size="16" fill="#1a1a1a">750</text><text x="495.5" y="187.0" text-anchor="middle" font-size="16" fill="#1a1a1a">850</text><text x="321.0" y="210.2" font-size="15.7" font-weight="bold" fill="#1a1a1a">Wavelength [nm]</text><text transform="translate(215.6 90.0) rotate(-90)" text-anchor="middle" font-size="14.3" letter-spacing="0.75" font-weight="bold" fill="#1a1a1a">log (excess loss</text><text transform="translate(235.3 88.8) rotate(-90)" text-anchor="middle" font-size="14.3" letter-spacing="0.5" font-weight="bold" fill="#1a1a1a">[dB/m] )</text></svg></body></html>
